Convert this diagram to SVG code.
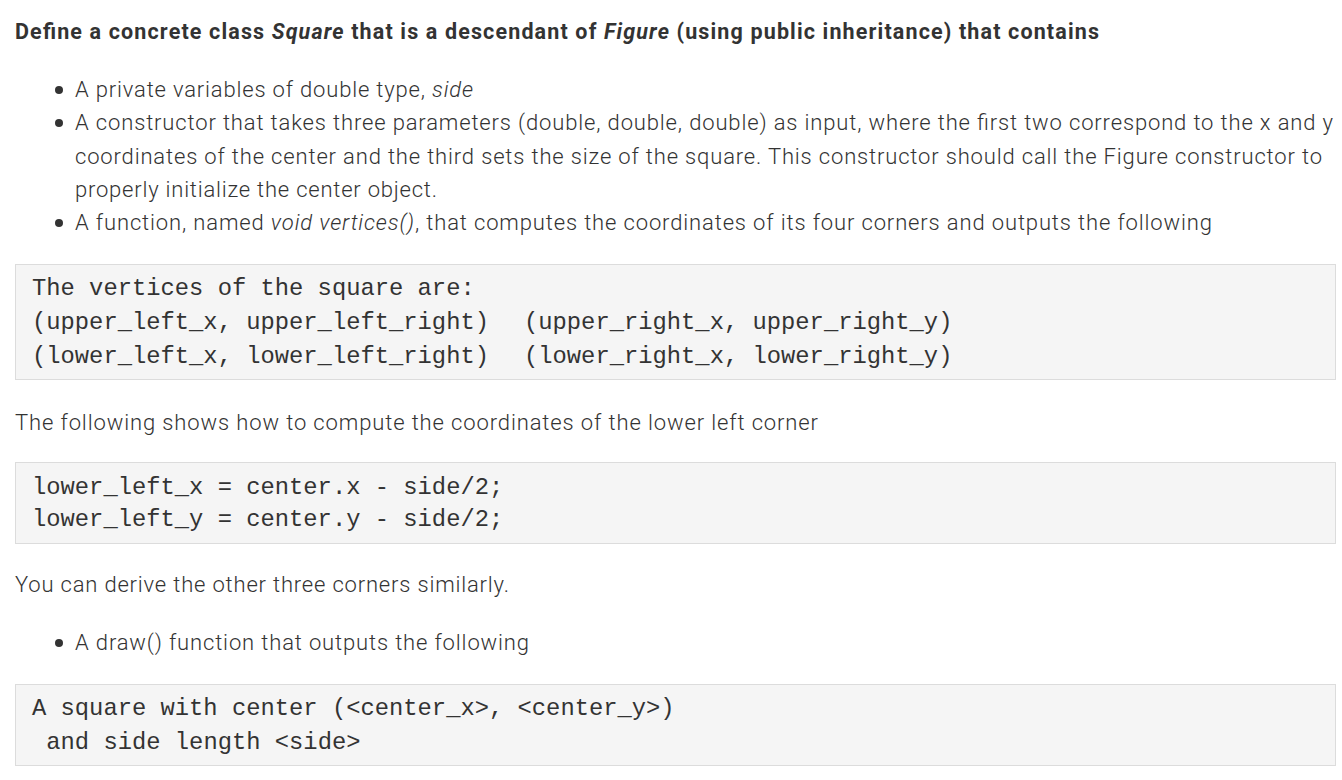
<svg xmlns="http://www.w3.org/2000/svg" width="1342" height="780" viewBox="0 0 1342 780">
<style>
.h{font-family:Roboto,"Liberation Sans",sans-serif;font-weight:700;font-size:21.5px;fill:#333}
.t{font-family:Roboto,"Liberation Sans",sans-serif;font-weight:300;font-size:22px;fill:#333}
.c{font-family:"Liberation Mono",monospace;font-size:23.8px;fill:#333}
.box{fill:#f5f5f5;stroke:#dcdcdc;stroke-width:1}
.b{fill:#333}
</style>
<rect width="1342" height="780" fill="#fff"/>
<text class="h" x="15" y="39" textLength="1084">Define a concrete class <tspan font-style="italic">Square</tspan> that is a descendant of <tspan font-style="italic">Figure</tspan> (using public inheritance) that contains</text>
<circle class="b" cx="59" cy="90" r="4"/>
<text class="t" x="75" y="97" textLength="398">A private variables of double type, <tspan font-style="italic">side</tspan></text>
<circle class="b" cx="59" cy="123" r="4"/>
<text class="t" x="75" y="130" textLength="1258">A constructor that takes three parameters (double, double, double) as input, where the first two correspond to the x and y</text>
<text class="t" x="75" y="164" textLength="1247">coordinates of the center and the third sets the size of the square. This constructor should call the Figure constructor to</text>
<text class="t" x="75" y="197" textLength="362">properly initialize the center object.</text>
<circle class="b" cx="59" cy="223" r="4"/>
<text class="t" x="75" y="230" textLength="1137">A function, named <tspan font-style="italic">void vertices()</tspan>, that computes the coordinates of its four corners and outputs the following</text>
<rect class="box" x="15.5" y="264.5" width="1320" height="115"/>
<text class="c" x="32" y="295">The vertices of the square are:</text>
<text class="c" x="32" y="329">(upper_left_x, upper_left_right)</text>
<text class="c" x="524" y="329">(upper_right_x, upper_right_y)</text>
<text class="c" x="32" y="363">(lower_left_x, lower_left_right)</text>
<text class="c" x="524" y="363">(lower_right_x, lower_right_y)</text>
<text class="t" x="15" y="430" textLength="803">The following shows how to compute the coordinates of the lower left corner</text>
<rect class="box" x="15.5" y="462.5" width="1320" height="81"/>
<text class="c" x="32" y="494">lower_left_x = center.x - side/2;</text>
<text class="c" x="32" y="526">lower_left_y = center.y - side/2;</text>
<text class="t" x="15" y="592" textLength="494">You can derive the other three corners similarly.</text>
<circle class="b" cx="59" cy="643" r="4"/>
<text class="t" x="75" y="650" textLength="454">A draw() function that outputs the following</text>
<rect class="box" x="15.5" y="684.5" width="1320" height="81"/>
<text class="c" x="32" y="715">A square with center (&lt;center_x&gt;, &lt;center_y&gt;)</text>
<text class="c" x="46.3" y="749">and side length &lt;side&gt;</text>
</svg>
